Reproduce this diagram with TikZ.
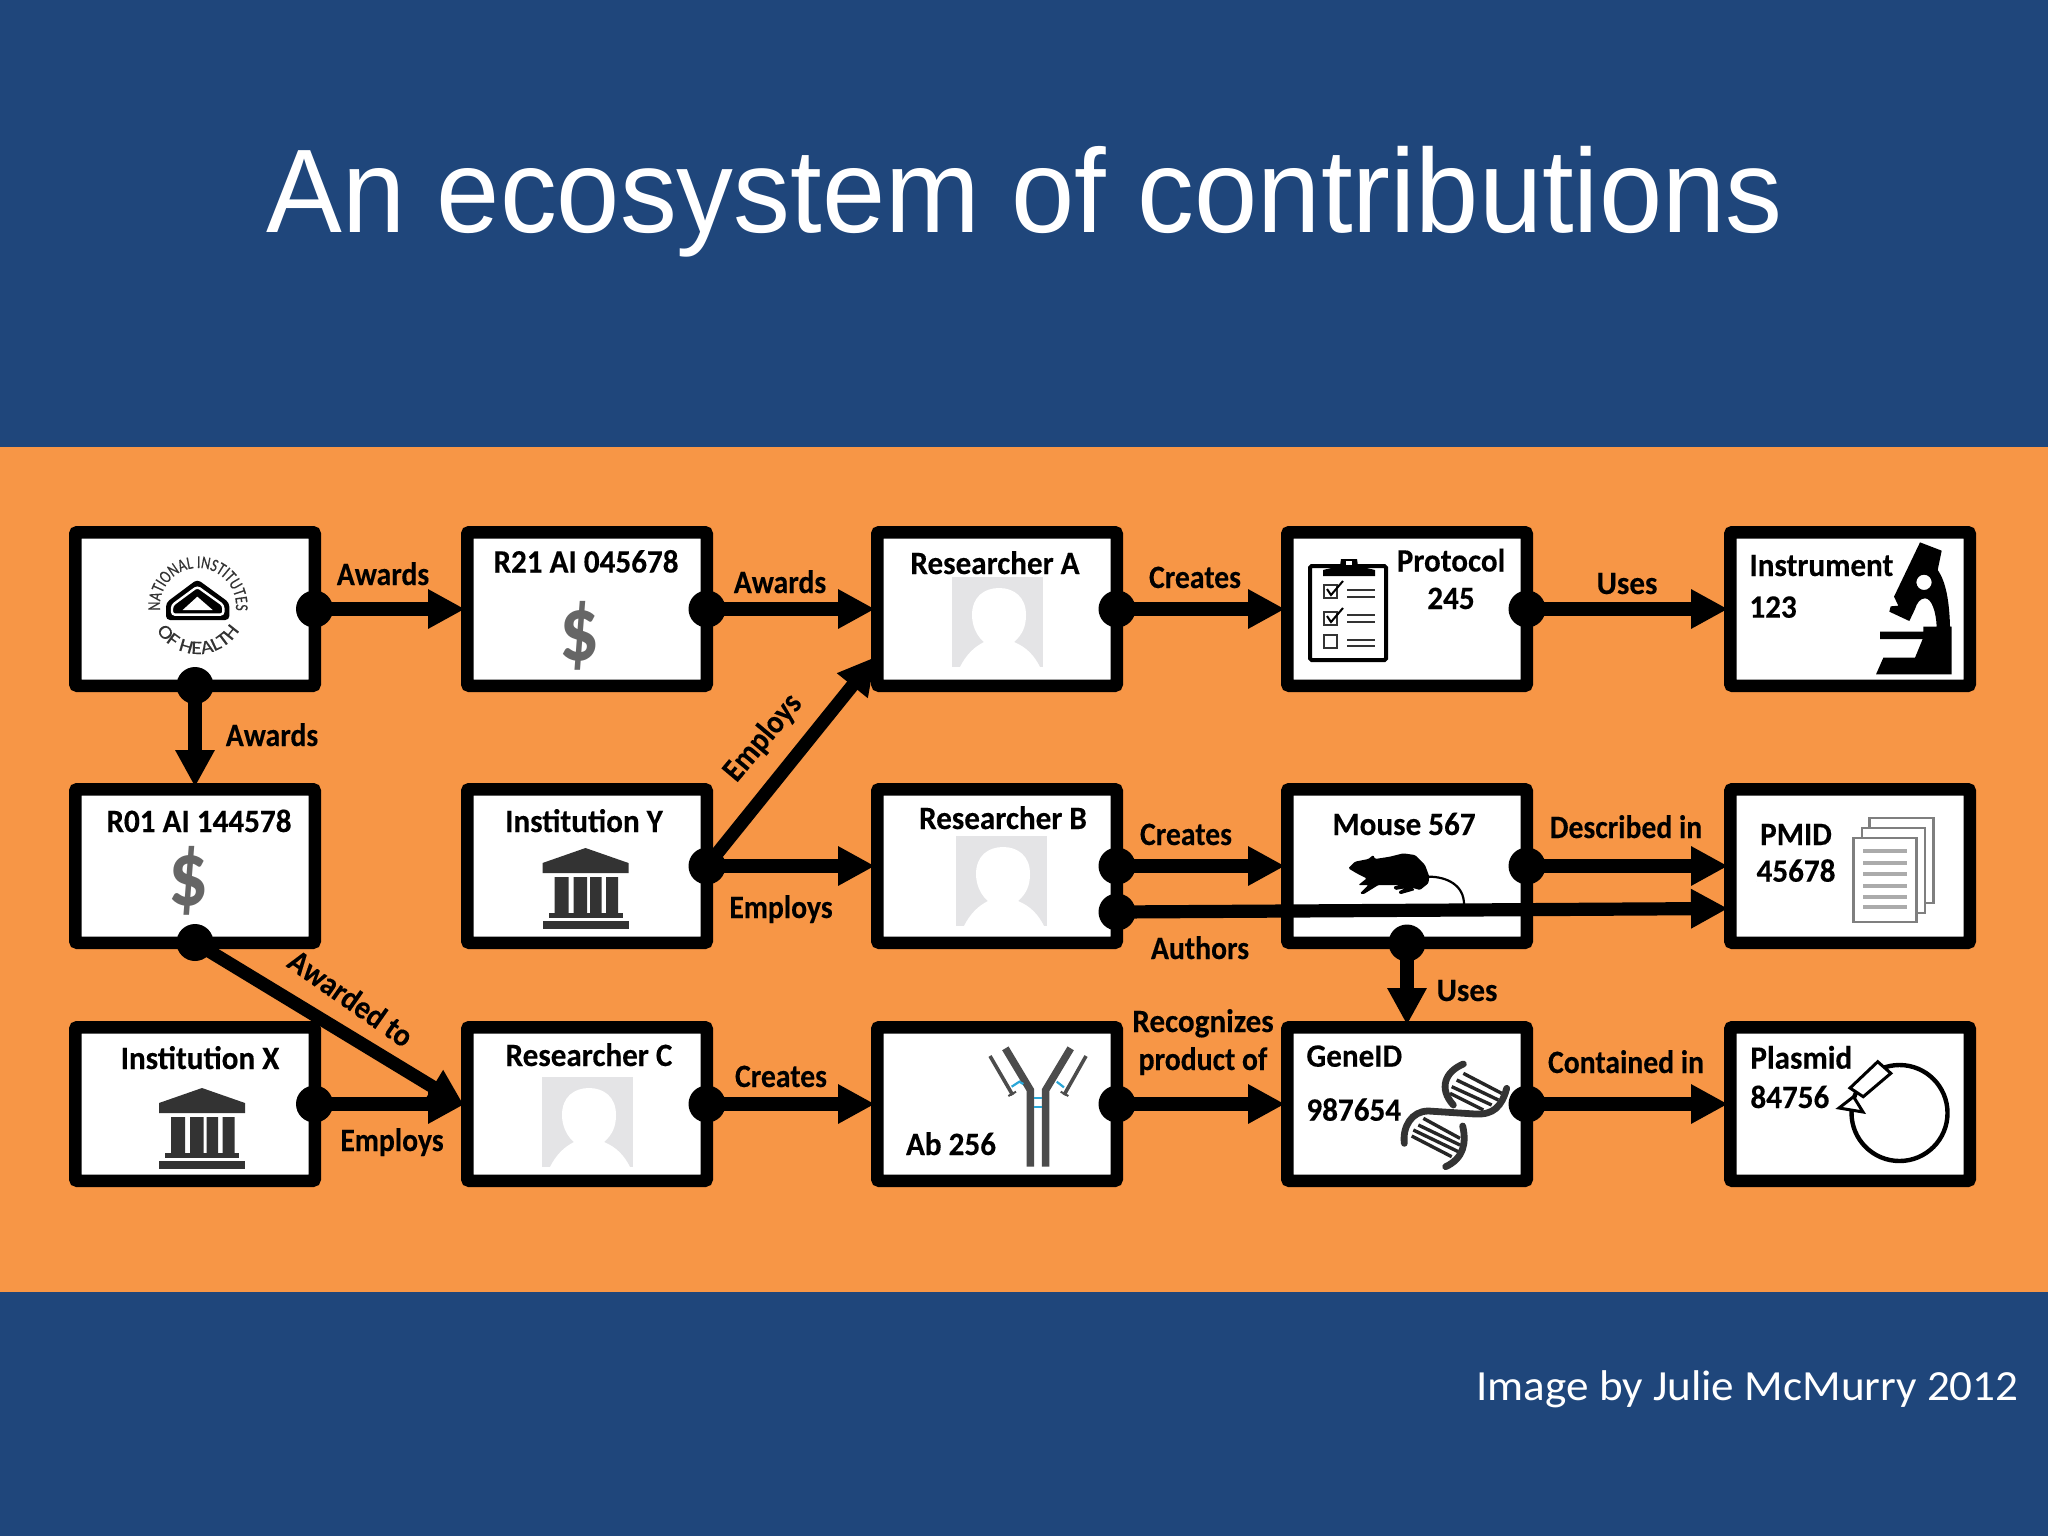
\documentclass[tikz,border=0pt]{standalone}
\usepackage{fontspec}
\usetikzlibrary{arrows.meta,decorations.text}
\setmainfont{Carlito}
\newfontfamily\labfont[FakeStretch=.955,BoldFeatures={FakeBold=.25}]{Carlito}
\newfontfamily\narrowfont[FakeStretch=.91,BoldFeatures={FakeBold=.25}]{Carlito}
\newfontfamily\dollarfont[FakeStretch=.86]{Carlito}
\newfontfamily\logofont[FakeStretch=.78,FakeBold=.2]{Carlito}
\newfontfamily\logowidefont[FakeStretch=1.15,FakeBold=.2]{Carlito}
\newfontfamily\creditfont[FakeStretch=1.05]{Carlito}
\newfontfamily\titlefont[FakeStretch=.955]{Liberation Sans}
\definecolor{deepblue}{HTML}{1F467B}
\definecolor{bandorange}{HTML}{F79646}
\definecolor{icondark}{HTML}{333333}
\definecolor{papergrey}{HTML}{7F7F7F}
\definecolor{linegrey}{HTML}{ABABAB}
\definecolor{persongrey}{HTML}{E4E4E6}
\definecolor{bondblue}{HTML}{2AA7D8}
\tikzset{
  box/.style={draw=black,line width=6.25pt,fill=white,rounded corners=1pt,minimum width=119.75pt,minimum height=76.75pt,inner sep=0pt},
  dot/.style={circle,fill=black,minimum size=18.5pt,inner sep=0pt},
  conn/.style={draw=black,line width=6.6pt,shorten >=-2pt,-{Triangle[length=18.5pt,width=18.5pt]}},
  lab/.style={font=\labfont\bfseries\fontsize{16.3}{18}\selectfont,anchor=base,inner sep=0pt,text=black},
  labl/.style={lab,anchor=base west},
  nlab/.style={lab,font=\narrowfont\bfseries\fontsize{16.3}{18}\selectfont},
  dollar/.style={font=\dollarfont\bfseries\fontsize{46}{48}\selectfont,text=black!60,inner sep=0pt},
  zoomed/.style={x=.16667pt,y=-.16667pt},
  person/.pic={
    \fill[persongrey] (0,0) rectangle (91,90);
    \fill[white] (8,90) .. controls (14,78) and (22,70) .. (32,65) .. controls (20,55) and (20,40) .. (20,38)
      .. controls (20,20) and (32,11) .. (47,11) .. controls (62,11) and (74,20) .. (74,38)
      .. controls (74,50) and (70,58) .. (62,65) .. controls (74,70) and (82,78) .. (88,90) -- cycle;
  },
  inst/.pic={
    \fill[icondark] (0,0) -- (43,15) -- (43,25) -- (-43,25) -- (-43,15) -- cycle;
    \fill[icondark] (-31,29) rectangle (-17,65) (-12,29) rectangle (1.5,65) (4.5,29) rectangle (16,65) (20.5,29) rectangle (32.5,65);
    \fill[icondark] (-37,65) rectangle (37,70);
    \fill[icondark] (-43,73) rectangle (43,81);
  },
}
\begin{document}
\begin{tikzpicture}[x=.5pt,y=-.5pt]
\useasboundingbox (0,0) rectangle (2048,1536);
\fill[deepblue] (0,0) rectangle (2048,1536);
\fill[bandorange] (0,447) rectangle (2048,1292);
% boxes
\node[box] (nih) at (195,609) {};
\node[box] (rtwo) at (587,609) {};
\node[box] (resA) at (997,609) {};
\node[box] (prot) at (1407,609) {};
\node[box] (instr) at (1850,609) {};
\node[box] (rone) at (195,866) {};
\node[box] (instY) at (587,866) {};
\node[box] (resB) at (997,866) {};
\node[box] (mouse) at (1407,866) {};
\node[box] (pmid) at (1850,866) {};
\node[box] (instX) at (195,1104) {};
\node[box] (resC) at (587,1104) {};
\node[box] (ab) at (997,1104) {};
\node[box] (gene) at (1407,1104) {};
\node[box] (plasmid) at (1850,1104) {};
% icons
\pic at (952,577) {person};
\pic at (956,836) {person};
\pic at (542,1077) {person};
\pic at (585.5,848) {inst};
\pic at (202,1088) {inst};
\node[dollar] (dollarA) at (580,636) {\$};
\node[dollar] (dollarB) at (188.5,881) {\$};
% NIH logo
\begin{scope}[shift={(120,530)},zoomed]
  \fill[black,rounded corners=2pt] (232,148) -- (328,218) -- (328,270) -- (138,270) -- (138,218) -- cycle;
  \draw[white,line width=1.2pt,rounded corners=1.5pt] (232,170) -- (310,226) -- (310,254) -- (156,254) -- (156,226) -- cycle;
  \fill[white] (232,200) -- (278,240) -- (188,240) -- cycle;
\end{scope}
\begin{scope}[shift={(198,606)},x=.5pt,y=.5pt]
  \path[decorate,decoration={text along path,text align=center,text color=icondark,
     text={|\logofont\fontsize{9}{10}\selectfont|NATIONAL INSTITUTES}}]
     (195:38) arc[start angle=195,end angle=-15,radius=38];
  \path[decorate,decoration={text along path,text align=center,text color=icondark,
     text={|\logowidefont\fontsize{9.5}{10}\selectfont|OF HEALTH}}]
     (200:48) arc[start angle=200,end angle=340,radius=48];
\end{scope}
% clipboard
\draw[black,line width=2pt,fill=white,rounded corners=.8pt] (1310,566) rectangle (1386,660);
\fill[black] (1323,576) -- (1323,570) -- (1340,566) -- (1341,559) -- (1357,559) -- (1358,566) -- (1375,570) -- (1375,576) -- cycle;
\fill[white] (1346,561) rectangle (1352,565);
\foreach \cy in {585,612,635} {
  \draw[icondark,line width=1.1pt,fill=white] (1324,\cy) rectangle (1337,\cy+13);
}
\foreach \ly in {590,597,615,622,640,646} {
  \draw[icondark,line width=1.1pt] (1347,\ly) -- (1375,\ly);
}
\draw[black,line width=1pt] (1327,589) -- (1331,595) -- (1343,581);
\draw[black,line width=1pt] (1327,616) -- (1331,622) -- (1343,608);
% microscope
\begin{scope}[shift={(1870,535)},zoomed]
  \fill[black,even odd rule] (150,22) -- (215,47) -- (203,105) .. controls (228,140) and (238,200) .. (240,275) -- (245,275) -- (245,418) -- (18,418) -- (40,368) -- (135,368) -- (158,312) -- (30,312) -- (30,290) -- (160,290) -- (160,275) -- (200,275) .. controls (198,230) and (185,190) .. (165,190) .. controls (150,190) and (140,205) .. (135,222) -- (118,258) -- (58,230) -- (62,214) -- (85,212) -- (72,185) -- cycle
  (185,142) arc[start angle=0,end angle=360,radius=23];
\end{scope}
% papers
\draw[papergrey,line width=1.3pt,fill=white] (1869.5,818) rectangle (1933.5,903);
\draw[papergrey,line width=1.3pt,fill=white] (1862,828) rectangle (1925,913);
\draw[papergrey,line width=1.3pt,fill=white] (1853.5,838) rectangle (1916.5,922);
\foreach \ly in {851,863,874,886,897,907} {
  \draw[linegrey,line width=1.6pt] (1863,\ly) -- (1907,\ly);
}
% mouse
\begin{scope}[shift={(1340,845)},zoomed]
  \fill[black,rounded corners=.6pt] (25,70) -- (45,50) -- (85,42) -- (100,30) -- (105,42) -- (150,35) -- (190,25) -- (225,30) -- (255,60) -- (268,95) -- (265,115) -- (240,135) -- (215,128) -- (225,135) -- (180,148) -- (175,140) -- (195,130) -- (165,135) -- (160,125) -- (180,120) -- (115,120) -- (70,148) -- (60,145) -- (85,120) -- (55,120) -- (80,100) -- (50,85) -- cycle;
  \draw[black,line width=1.1pt] (266,95) .. controls (320,95) and (372,120) .. (372,178);
\end{scope}
% antibody
\begin{scope}[shift={(860,1000)},zoomed]
  \draw[black!70,line width=3.7pt,miter limit=4] (511,500) -- (511,270) -- (436,145);
  \draw[black!70,line width=3.7pt,miter limit=4] (557,500) -- (557,270) -- (632,145);
  \draw[black!70,line width=1.8pt] (390,168) -- (458,285);
  \draw[black!70,line width=1.8pt] (678,168) -- (612,285);
  \draw[black!70,line width=1pt] (445,288) -- (468,275);
  \draw[black!70,line width=1pt] (625,288) -- (602,275);
  \draw[bondblue,line width=1.1pt] (455,260) -- (478,245) -- (490,252);
  \draw[bondblue,line width=1.1pt] (590,245) -- (612,262);
  \draw[bondblue,line width=1.1pt] (522,293) -- (546,293);
  \draw[bondblue,line width=1.1pt] (522,322) -- (546,322);
\end{scope}
% DNA
\begin{scope}[shift={(1395,1050)},zoomed]
  \foreach \ax/\ay/\bx/\by in {205/70/320/130,185/90/310/150,170/110/290/165,165/130/265/180,85/205/195/265,70/225/195/285,55/240/190/305,50/258/170/320} {
    \draw[black!85,line width=1.7pt] (\ax,\ay) -- (\bx,\by);
  }
  \draw[icondark,line width=3.4pt,line cap=round] (205,42) .. controls (150,65) and (130,115) .. (175,165);
  \draw[icondark,line width=3.4pt,line cap=round] (335,115) .. controls (320,170) and (295,195) .. (240,192) -- (100,183) .. controls (50,183) and (22,230) .. (28,280);
  \draw[icondark,line width=3.4pt,line cap=round] (203,228) .. controls (215,280) and (205,325) .. (152,350);
\end{scope}
% plasmid
\draw[black,line width=2.2pt] (1899.5,1113) circle[radius=48];
\draw[black,line width=1.5pt,fill=white] (1877.7,1061.7) -- (1890.8,1073.3) -- (1863.2,1096.7) -- (1850,1088) -- cycle;
\draw[black,line width=1.5pt,fill=white] (1853.5,1096.7) -- (1839,1108) -- (1863,1112) -- cycle;
% ports
\node[dot] (nihE) at (314.5,609) {};
\node[dot] (nihS) at (195,685.5) {};
\node[dot] (rtwoE) at (707,609) {};
\node[dot] (resAE) at (1117,609) {};
\node[dot] (protE) at (1527,609) {};
\node[dot] (roneS) at (195,942.5) {};
\node[dot] (instYE) at (707,866) {};
\node[dot] (resBE) at (1117,866) {};
\node[dot] (resBF) at (1117,912) {};
\node[dot] (mouseE) at (1527,866) {};
\node[dot] (mouseS) at (1407,943) {};
\node[dot] (instXE) at (314.5,1104) {};
\node[dot] (resCE) at (707,1104) {};
\node[dot] (abE) at (1117,1104) {};
\node[dot] (geneE) at (1527,1104) {};
\coordinate (resAin) at (873,660);
\coordinate (pmidin) at (1724,908.5);
% connectors
\draw[conn] (nihE.center) -- (rtwo.west);
\draw[conn] (rtwoE.center) -- (resA.west);
\draw[conn] (resAE.center) -- (prot.west);
\draw[conn] (protE.center) -- (instr.west);
\draw[conn] (nihS.center) -- (rone.north);
\draw[conn] (instYE.center) -- (resAin);
\draw[conn] (instYE.center) -- (resB.west);
\draw[conn] (resBE.center) -- (mouse.west);
\draw[conn] (resBF.center) -- (pmidin);
\draw[conn] (mouseE.center) -- (pmid.west);
\draw[conn] (mouseS.center) -- (gene.north);
\draw[conn] (roneS.center) -- (resC.west);
\draw[conn] (instXE.center) -- (resC.west);
\draw[conn] (resCE.center) -- (ab.west);
\draw[conn] (abE.center) -- (gene.west);
\draw[conn] (geneE.center) -- (plasmid.west);
% connector labels
\node[nlab] (lA) at (383,585) {Awards};
\node[nlab] (lB) at (272,746) {Awards};
\node[nlab] (lC) at (780,593) {Awards};
\node[nlab] (lD) at (1195,588) {Creates};
\node[lab] (lE) at (1627,594) {Uses};
\node[nlab,anchor=center,rotate=50] (lF) at (763,738) {Employs};
\node[nlab] (lG) at (781,918) {Employs};
\node[nlab] (lH) at (1186,845) {Creates};
\node[nlab] (lI) at (1626,838) {Described in};
\node[nlab] (lJ) at (1200,959) {Authors};
\node[lab] (lK) at (1467,1001) {Uses};
\node[nlab,anchor=center,rotate=-35] (lL) at (351,998) {Awarded to};
\node[nlab] (lM) at (392,1151) {Employs};
\node[nlab] (lN) at (781,1087) {Creates};
\node[lab] (lO) at (1203,1032) {Recognizes};
\node[nlab] (lP) at (1203,1070) {product of};
\node[nlab] (lQ) at (1626,1073) {Contained in};
% box labels
\node[lab] (tA) at (586,572.5) {R21 AI 045678};
\node[lab] (tB) at (995,574) {Researcher A};
\node[lab] (tC) at (1451,571.5) {Protocol};
\node[lab] (tD) at (1451,609) {245};
\node[labl] (tE) at (1749,576) {Instrument};
\node[labl] (tF) at (1749,617.7) {123};
\node[lab] (tG) at (199,832) {R01 AI 144578};
\node[lab] (tH) at (584,832) {Institution Y};
\node[lab] (tI) at (1003,829) {Researcher B};
\node[lab] (tJ) at (1404,835) {Mouse 567};
\node[lab] (tK) at (1796,845) {PMID};
\node[lab] (tL) at (1796,881.7) {45678};
\node[lab] (tM) at (200,1069) {Institution X};
\node[lab] (tN) at (589,1066) {Researcher C};
\node[lab] (tO) at (951,1155) {Ab 256};
\node[labl] (tP) at (1306,1066.7) {GeneID};
\node[labl] (tQ) at (1306,1120.7) {987654};
\node[labl] (tR) at (1750,1068.7) {Plasmid};
\node[labl] (tS) at (1750,1108) {84756};
% title and credit
\node[anchor=base west,inner sep=0pt,text=white,font=\titlefont\fontsize{59.5}{64}\selectfont] (title) at (266,232) {An ecosystem of contributions};
\node[anchor=base east,inner sep=0pt,text=white,font=\creditfont\fontsize{21.5}{24}\selectfont] (credit) at (2019,1400) {Image by Julie McMurry 2012};
\end{tikzpicture}
\end{document}
